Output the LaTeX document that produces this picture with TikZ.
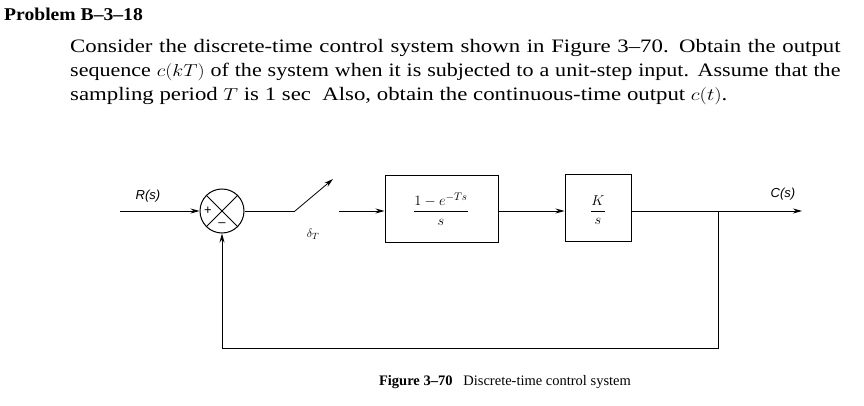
\documentclass[tikz,border=0pt]{standalone}
\usepackage{fontspec}
\setmainfont{Liberation Serif}
\newfontfamily\dsans{Liberation Sans}
\usetikzlibrary{arrows.meta}
\begin{document}
\begin{tikzpicture}[x=1pt,y=-1pt,
  blk/.style={draw,line width=1pt,inner sep=0},
  ln/.style={line width=0.8pt},
  arr/.style={ln,-{Stealth[length=9pt,width=5pt]}},
  txt/.style={anchor=west,inner sep=0,font=\fontsize{19}{22}\selectfont},
  lab/.style={inner sep=0,font=\dsans\itshape\fontsize{13}{15}\selectfont}]
\useasboundingbox (0,0) rectangle (864,406);
\node[anchor=west,inner sep=0,xscale=1.09,font=\bfseries\fontsize{18}{21}\selectfont] (title) at (4,14) {Problem B–3–18};
\node[txt,xscale=1.2] (l1) at (70,48) {\makebox[642pt][s]{Consider the discrete-time control system shown in Figure 3–70. Obtain the output}};
\node[txt,xscale=1.16] (l2) at (70,72) {\makebox[664pt][s]{sequence $c(kT)$ of the system when it is subjected to a unit-step input. Assume that the}};
\node[txt,xscale=1.2] (l3) at (70,96) {sampling period $T$ is 1 sec\ \ Also, obtain the continuous-time output $c(t)$.};
% diagram
\coordinate (in) at (120,211);
\node[draw,circle,line width=1pt,minimum size=44pt,inner sep=0] (sum) at (222,211) {};
\draw[line width=1pt] (sum.north west) -- (sum.south east) (sum.north east) -- (sum.south west);
\node[font=\dsans\fontsize{13}{14}\selectfont] (plus) at (208,211) {+};
\node[font=\dsans\fontsize{13}{14}\selectfont] (minus) at (222,225) {–};
\coordinate (sw1) at (295,211);
\coordinate (sw2) at (333,179);
\coordinate (sin) at (339,211);
\node[blk,minimum width=113pt,minimum height=66pt] (b1) at (441.5,209) {};
\node[font=\fontsize{15}{18}\selectfont] (f1) at (441,209) {$\displaystyle\frac{1-e^{-Ts}}{s}$};
\node[blk,minimum width=66pt,minimum height=66pt] (b2) at (598,208) {};
\node[font=\fontsize{15}{18}\selectfont] (f2) at (598,210) {$\displaystyle\frac{K}{s}$};
\coordinate (out) at (802,211);
\coordinate (br) at (718,211);
\coordinate (c1) at (718,348);
\coordinate (c2) at (222,348);
\draw[arr] (in) -- (sum.west);
\draw[ln] (sum.east) -- (sw1);
\draw[arr] (sw1) -- (sw2);
\draw[arr] (sin) -- (b1.west |- sin);
\draw[arr] (b1.east |- sin) -- (b2.west |- sin);
\draw[arr] (b2.east |- sin) -- (out);
\draw[arr] (br) -- (c1) -- (c2) -- (sum.south);
\node[lab] (R) at (148,196) {R(s)};
\node[lab] (C) at (783,194) {C(s)};
\node[lab] (d) at (313,234) {$\delta_T$};
\node[inner sep=0,font=\fontsize{14.5}{17}\selectfont] (cap) at (505,382) {\textbf{Figure 3–70}\ \ \ Discrete-time control system};
\end{tikzpicture}
\end{document}
